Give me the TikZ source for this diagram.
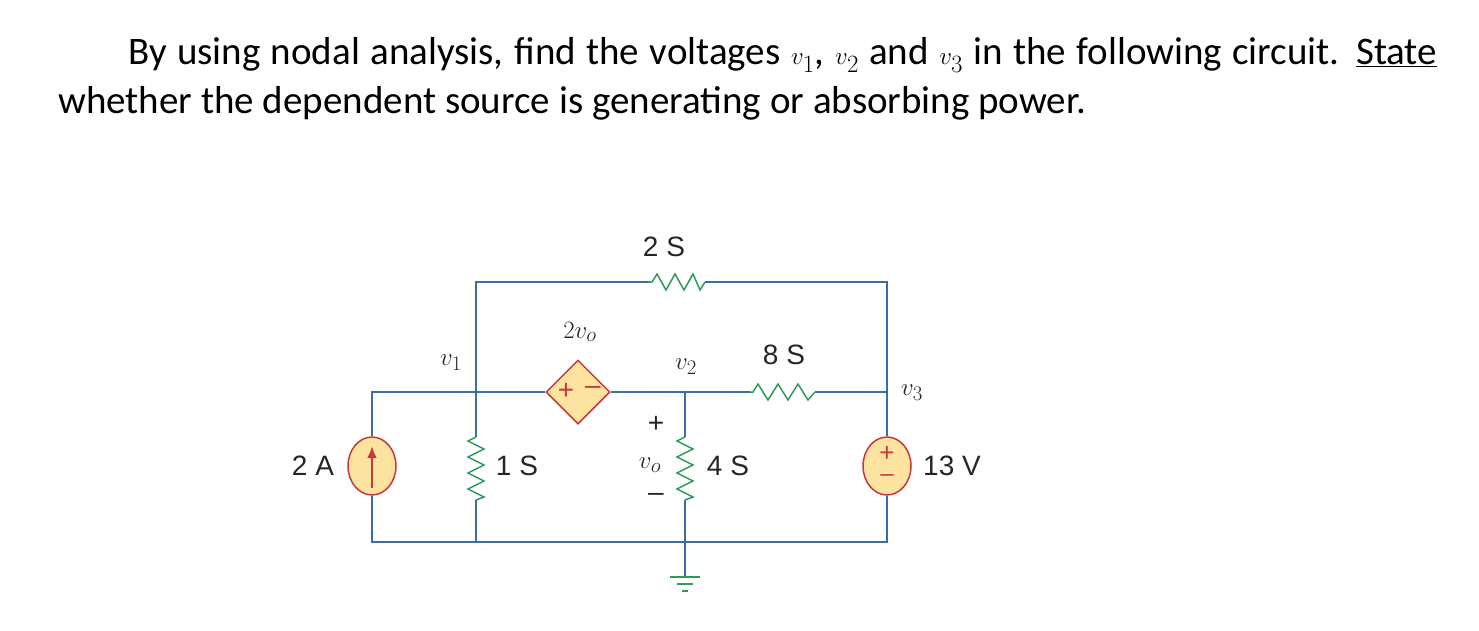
\documentclass[tikz,border=0pt]{standalone}
\usepackage{fontspec}
\setmainfont{Carlito}
\newfontfamily\cf{Liberation Sans}
\usetikzlibrary{shapes.geometric,arrows.meta}
\definecolor{wire}{HTML}{3A6EA5}
\definecolor{res}{HTML}{2E9A5A}
\definecolor{srcfill}{HTML}{FDE3A0}
\definecolor{srcline}{HTML}{C8393B}
\begin{document}
\begin{tikzpicture}[x=1pt,y=-1pt,
  w/.style={wire,line width=1.5pt},
  zz/.style={res,line width=1.5pt},
  lbl/.style={font=\cf\fontsize{28}{32}\selectfont,text=black!85},
  src/.style={ellipse,draw=srcline,fill=srcfill,line width=1.5pt,minimum width=48pt,minimum height=58pt},
  txt/.style={font=\fontsize{39}{46}\selectfont,anchor=west,inner sep=0}]
\useasboundingbox (0,0) rectangle (1479,630);
\node[txt] (l1) at (128,55) {\makebox[1309pt][s]{By using nodal analysis, find the voltages $v_1$, $v_2$ and $v_3$ in the following circuit. \underline{State}}};
\node[txt] (l2) at (58,103) {whether the dependent source is generating or absorbing power.};
% coordinates
\coordinate (tl) at (476,282); \coordinate (tr) at (887,282);
\coordinate (ml) at (372,392); \coordinate (n1) at (476,392);
\coordinate (n2) at (685,392); \coordinate (n3) at (887,392);
\coordinate (bl) at (372,542); \coordinate (b1) at (476,542);
\coordinate (b2) at (685,542); \coordinate (br) at (887,542);
\coordinate (g) at (685,577);
\node[src] (cs) at (372,466) {};
\node[src] (vs) at (887,466) {};
\node[diamond,draw=srcline,fill=srcfill,line width=1.5pt,minimum width=64pt,minimum height=64pt,inner sep=0] (ds) at (578,392) {};
\node[text=srcline,font=\cf\fontsize{28}{28}\selectfont] at (566,391) {+};
\node[text=srcline,font=\cf\fontsize{28}{28}\selectfont] at (593,390) {\textendash};
\node[text=srcline,font=\cf\fontsize{26}{26}\selectfont] at (887,454) {+};
\node[text=srcline,font=\cf\fontsize{24}{24}\selectfont] at (887,478) {\textendash};
\draw[srcline,line width=2.5pt,-{Latex[length=12pt,width=10pt]}] (372,488) -- (372,446);
% wires
\draw[w] (cs.north) -- (ml) -- (ds.west);
\draw[w] (ds.east) -- (n2) -- (750,392);
\draw[w] (815,392) -- (n3) -- (vs.north);
\draw[w] (cs.south) -- (bl) -- (br) -- (vs.south);
\draw[w] (n1) -- (tl) -- (650,282);
\draw[w] (705,282) -- (tr) -- (n3);
\draw[w] (n1) -- (476,437); \draw[w] (476,500) -- (b1);
\draw[w] (n2) -- (685,437); \draw[w] (685,500) -- (b2) -- (g);
% resistors
\draw[zz] (648,282) -- (652,282) -- (657,274) -- (666,290) -- (675,274) -- (684,290) -- (693,274) -- (700,290) -- (705,282);
\draw[zz] (750,392) -- (753,392) -- (758,384) -- (768,400) -- (778,384) -- (788,400) -- (798,384) -- (808,400) -- (815,392);
\draw[zz] (476,437) -- (468,441) -- (484,449) -- (468,457) -- (484,465) -- (468,473) -- (484,481) -- (468,489) -- (484,497) -- (476,500);
\draw[zz] (685,437) -- (677,441) -- (693,449) -- (677,457) -- (693,465) -- (677,473) -- (693,481) -- (677,489) -- (693,497) -- (685,500);
% ground
\draw[res,line width=1.8pt] (670,577) -- (700,577);
\draw[res,line width=1.8pt] (677,584) -- (693,584);
\draw[res,line width=1.8pt] (682,591) -- (688,591);
% labels
\node[lbl] at (313,466) {2 A};
\node[lbl] at (517,466) {1 S};
\node[lbl] at (728,466) {4 S};
\node[lbl] at (952,466) {13 V};
\node[lbl] at (664,247) {2 S};
\node[lbl] at (784,355) {8 S};
\node[lbl] at (451,363) {$v_1$};
\node[lbl] at (686,367) {$v_2$};
\node[lbl] at (912,393) {$v_3$};
\node[lbl] at (580,332) {$2v_o$};
\node[lbl] at (656,424) {+};
\node[lbl] at (650,465) {$v_o$};
\node[lbl] at (656,497) {\textendash};
\end{tikzpicture}
\end{document}
